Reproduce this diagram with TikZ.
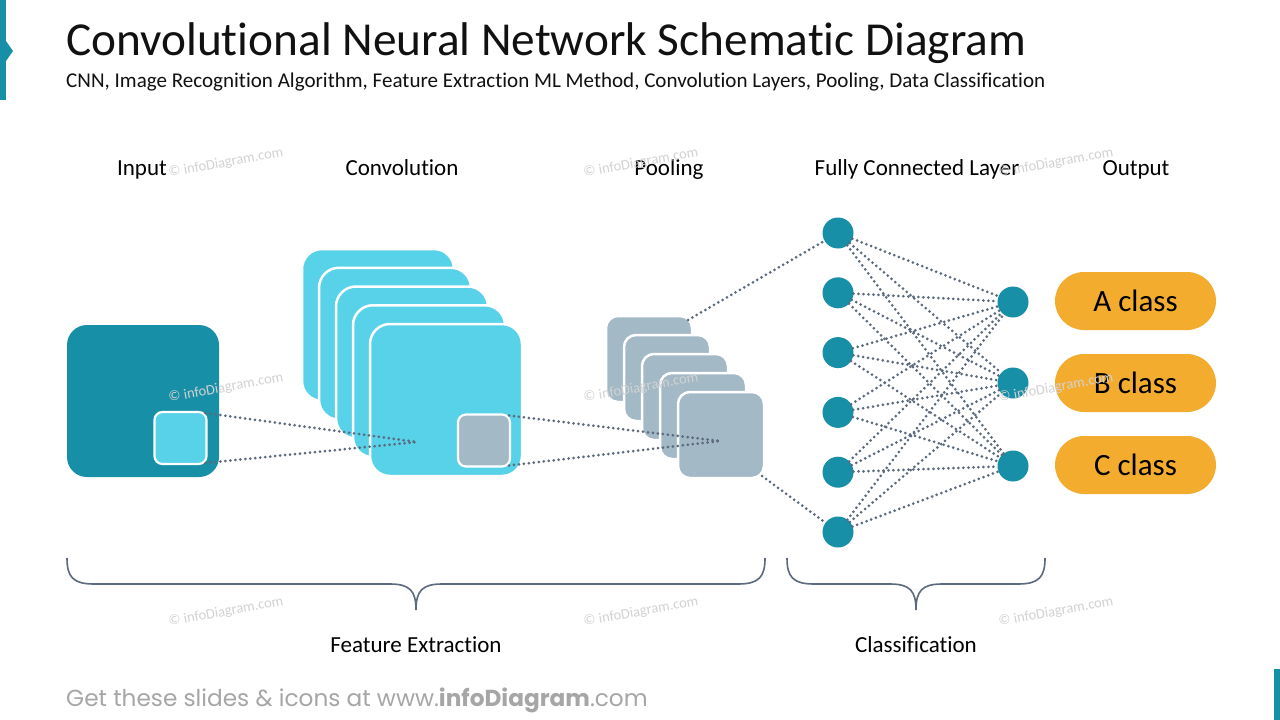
\documentclass[tikz,border=0pt]{standalone}
\usepackage{fontspec}
\setmainfont{Carlito}[Ligatures={NoCommon}]
\newfontfamily\footfont{Poppins}
\usetikzlibrary{calc}
\definecolor{cnnteal}{HTML}{178FA6}
\definecolor{cnncyan}{HTML}{57D2E8}
\definecolor{cnngray}{HTML}{A3B9C6}
\definecolor{cnnorange}{HTML}{F4AC2F}
\definecolor{cnnline}{HTML}{5B6A7C}
\definecolor{cnnfoot}{HTML}{A6A6A6}
\definecolor{cnnwm}{HTML}{D2D2D2}
\definecolor{cnntext}{HTML}{111111}
\begin{document}
\begin{tikzpicture}[x=1pt,y=-1pt,
  bigsq/.style={rectangle, inner sep=0pt, outer sep=0pt, minimum width=152pt, minimum height=152pt, rounded corners=20pt},
  convsq/.style={bigsq, fill=cnncyan, draw=white, line width=2.5pt},
  poolsq/.style={rectangle, inner sep=0pt, outer sep=0pt, minimum width=86pt, minimum height=86pt, rounded corners=12pt, fill=cnngray, draw=white, line width=2.5pt},
  smallsq/.style={rectangle, inner sep=0pt, outer sep=0pt, minimum width=52pt, minimum height=52pt, rounded corners=8pt, draw=white, line width=2.2pt},
  neuron/.style={circle, fill=cnnteal, inner sep=0pt, outer sep=0pt, minimum size=31pt},
  pill/.style={rectangle, fill=cnnorange, rounded corners=29pt, minimum width=161pt, minimum height=58pt, inner sep=0pt, font=\fontsize{31}{34}\selectfont, text=black},
  dotline/.style={draw=cnnline, line width=3pt, line cap=round, dash pattern=on 0pt off 5pt},
  brace/.style={draw=cnnline, line width=1.6pt},
  lbl/.style={anchor=base, inner sep=0pt, font=\fontsize{23}{26}\selectfont, text=black},
  wm/.style={inner sep=0pt, rotate=10, font=\fontsize{14.5}{16}\selectfont, text=cnnwm}
]
\useasboundingbox (0,0) rectangle (1280,720);
\fill[white] (0,0) rectangle (1280,720);
% accent bars
\fill[cnnteal] (0,0) rectangle (6,100);
\fill[cnnteal] (6,41) -- (13,51) -- (6,61) -- cycle;
\fill[cnnteal] (1274,669) rectangle (1280,720);
% title
\node[anchor=base west, inner sep=0pt, font=\fontsize{47.3}{52}\selectfont, text=cnntext] (title) at (66,55) {Convolutional Neural Network Schematic Diagram};
\node[anchor=base west, inner sep=0pt, font=\fontsize{21.05}{24}\selectfont, text=cnntext] (subtitle) at (66,87) {CNN, Image Recognition Algorithm, Feature Extraction ML Method, Convolution Layers, Pooling, Data Classification};
% column labels
\node[lbl] (linput) at (142,175) {Input};
\node[lbl] (lconv) at (402,175) {Convolution};
\node[lbl] (lpool) at (669,175) {Pooling};
\node[lbl] (lfc) at (917,175) {Fully Connected Layer};
\node[lbl] (lout) at (1136,175) {Output};
% input
\node[bigsq, fill=cnnteal] (inbig) at (143,401) {};
\node[smallsq, fill=cnncyan] (insm) at (180.5,438) {};
% convolution stack
\foreach \i in {0,...,4} {
  \node[convsq] (conv\i) at ({378+17*\i},{325+18.75*\i}) {};
}
\node[smallsq, fill=cnngray] (convsm) at (484,440.5) {};
% pooling stack
\foreach \i in {0,...,4} {
  \node[poolsq] (pool\i) at ({649+18*\i},{359+19*\i}) {};
}
% convergence points
\coordinate (cfocus) at (417,442);
\coordinate (pfocus) at (720,441);
\draw[dotline] ([shift={(-1,1)}]insm.north east) -- (cfocus);
\draw[dotline] ([shift={(-1,-1)}]insm.south east) -- (cfocus);
\draw[dotline] ([shift={(-1,1)}]convsm.north east) -- (pfocus);
\draw[dotline] ([shift={(-1,-1)}]convsm.south east) -- (pfocus);
% fully connected
\foreach \i in {1,...,6} {
  \node[neuron] (L\i) at (838,{233+59.8*(\i-1)}) {};
}
\node[neuron] (R1) at (1013,302) {};
\node[neuron] (R2) at (1013,383) {};
\node[neuron] (R3) at (1013,466) {};
\draw[dotline] ([shift={(-4,4)}]pool0.north east) -- (L1);
\draw[dotline] ([shift={(-2,-2)}]pool4.south east) -- (L6);
\foreach \i in {1,...,6} {
  \foreach \j in {1,2,3} {
    \draw[dotline] (L\i) -- (R\j);
  }
}
% output
\node[pill] (outA) at (1135.5,301) {A class};
\node[pill] (outB) at (1135.5,383) {B class};
\node[pill] (outC) at (1135.5,465) {C class};
% braces
\draw[brace] (67,558) .. controls (67,577) and (73,584) .. (94,584) -- (390,584) .. controls (410,584) and (416,591) .. (416,610) .. controls (416,591) and (422,584) .. (442,584) -- (738,584) .. controls (759,584) and (765,577) .. (765,558);
\draw[brace] (787,558) .. controls (787,577) and (793,584) .. (814,584) -- (890,584) .. controls (910,584) and (916,591) .. (916,610) .. controls (916,591) and (922,584) .. (942,584) -- (1018,584) .. controls (1039,584) and (1045,577) .. (1045,558);
\node[lbl] (lfeat) at (416,652) {Feature Extraction};
\node[lbl] (lclass) at (916,652) {Classification};
% footer
\node[anchor=base west, inner sep=0pt, font=\footfont\fontsize{23.2}{28}\selectfont, text=cnnfoot] (footer) at (66,706) {Get these slides \& icons at www.\textbf{infoDiagram}.com};
% watermarks
\foreach \x/\n in {226/a,641/b,1056/c} {
  \foreach \y/\m in {163/1,388/2,612/3} {
    \node[wm] (wm\n\m) at (\x,\y) {© infoDiagram.com};
  }
}
\end{tikzpicture}
\end{document}
